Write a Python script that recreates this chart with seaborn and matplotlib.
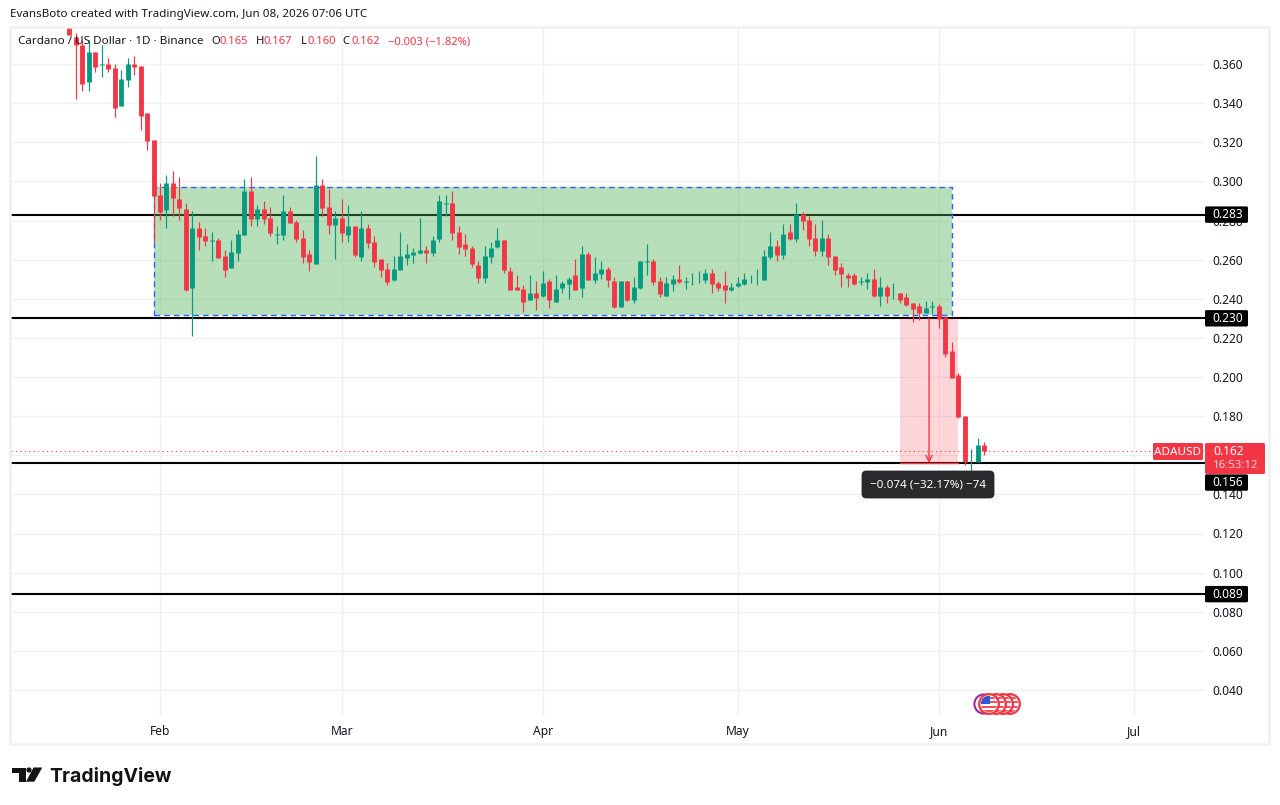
import matplotlib
matplotlib.use("Agg")
import matplotlib.pyplot as plt
from matplotlib.patches import Rectangle, Circle, Polygon, FancyBboxPatch
import numpy as np
import pandas as pd
import seaborn as sns

# Daily ADA/USD candles, starting 18 Jan 2026
first_day = "2026-01-18"
opens = [.3787,.3740,.3697,.3508,.3661,.3597,.3600,.3580,.3385,.3518,.3600,.3590,.3350,.3211,
         .2930,.2854,.2992,.2910,.2859,.2455,.2762,.2721,.2697,.2700,.2619,.2557,.2634,.2726,.2951,.2808,
         .2859,.2813,.2727,.2726,.2849,.2792,.2710,.2629,.2578,.2981,.2869,.2777,.2813,.2726,.2772,
         .2613,.2762,.2690,.2603,.2552,.2496,.2547,.2608,.2624,.2634,.2649,.2634,.2705,.2886,.2890,
         .2741,.2680,.2659,.2573,.2506,.2613,.2665,.2700,.2542,.2460,.2450,.2394,.2429,.2414,.2491,
         .2383,.2455,.2475,.2521,.2455,.2629,.2496,.2527,.2552,.2491,.2358,.2491,.2394,.2455,.2590,
         .2593,.2491,.2414,.2475,.2501,.2488,.2509,.2499,.2496,.2532,.2481,.2470,.2445,.2465,.2475,
         .2499,.2499,.2496,.2613,.2670,.2624,.2741,.2705,.2833,.2803,.2711,.2644,.2711,.2618,.2562,
         .2521,.2521,.2488,.2486,.2501,.2414,.2460,.2427,.2429,.2409,.2378,.2363,.2327,.2360,.2363,
         .2307,.2133,.2010,.1801,.1565,.1565,.165]
highs = [.3787,.3760,.3723,.3723,.3661,.3697,.3631,.3600,.3569,.3631,.3641,.3590,.3350,.3211,
         .2990,.3033,.3053,.3022,.2889,.2849,.2792,.2762,.2741,.2710,.2649,.2700,.2751,.3012,.3022,.2879,
         .2899,.2869,.2772,.2930,.2869,.2803,.2751,.2649,.3130,.3012,.2961,.2849,.2910,.2879,.2772,
         .2849,.2782,.2721,.2603,.2583,.2619,.2741,.2680,.2659,.2813,.2670,.2721,.2930,.2930,.2951,
         .2772,.2731,.2670,.2593,.2670,.2690,.2762,.2700,.2562,.2521,.2470,.2521,.2491,.2542,.2501,
         .2521,.2491,.2511,.2603,.2670,.2639,.2613,.2593,.2562,.2511,.2491,.2491,.2511,.2593,.2680,
         .2603,.2511,.2511,.2521,.2572,.2511,.2532,.2542,.2552,.2552,.2491,.2542,.2481,.2511,.2532,
         .2521,.2552,.2649,.2741,.2700,.2782,.2782,.2889,.2843,.2823,.2782,.2803,.2731,.2618,.2583,
         .2532,.2532,.2511,.2532,.2552,.2511,.2470,.2481,.2429,.2429,.2378,.2378,.2389,.2389,.2373,
         .2307,.2179,.2020,.1801,.1632,.1688,.167]
lows = [.3748,.3421,.3464,.3462,.3559,.3535,.3559,.3329,.3385,.3482,.3544,.3263,.3160,.2692,
        .2803,.2762,.2823,.2803,.2440,.2209,.2649,.2670,.2593,.2608,.2511,.2557,.2593,.2726,.2772,.2772,
        .2782,.2721,.2680,.2700,.2787,.2690,.2583,.2542,.2578,.2823,.2731,.2603,.2690,.2690,.2613,
        .2593,.2659,.2562,.2511,.2470,.2490,.2547,.2573,.2583,.2629,.2583,.2619,.2690,.2823,.2700,
        .2629,.2619,.2562,.2480,.2480,.2583,.2659,.2532,.2445,.2445,.2332,.2394,.2343,.2409,.2353,
        .2383,.2429,.2399,.2445,.2409,.2496,.2480,.2501,.2460,.2353,.2358,.2388,.2378,.2450,.2521,
        .2470,.2409,.2414,.2440,.2481,.2450,.2470,.2481,.2481,.2429,.2440,.2378,.2440,.2460,.2470,
        .2481,.2470,.2496,.2603,.2593,.2603,.2700,.2690,.2752,.2670,.2618,.2618,.2572,.2521,.2460,
        .2460,.2470,.2470,.2450,.2409,.2363,.2378,.2399,.2378,.2363,.2281,.2291,.2327,.2322,.2251,
        .2102,.1995,.1790,.1550,.1479,.1565,.160]
closes = [.3748,.3697,.3498,.3661,.3585,.3600,.3574,.3375,.3523,.3600,.3585,.3334,.3206,.2925,
          .2844,.2992,.2915,.2864,.2445,.2762,.2716,.2695,.2700,.2608,.2547,.2639,.2731,.2951,.2808,.2859,
          .2808,.2736,.2731,.2849,.2787,.2705,.2613,.2588,.2981,.2864,.2777,.2813,.2736,.2772,.2624,
          .2762,.2685,.2588,.2547,.2486,.2552,.2619,.2629,.2639,.2649,.2634,.2700,.2900,.2890,.2736,
          .2665,.2654,.2578,.2506,.2619,.2659,.2700,.2547,.2445,.2445,.2383,.2429,.2404,.2480,.2394,
          .2450,.2480,.2501,.2445,.2629,.2496,.2532,.2552,.2496,.2358,.2491,.2394,.2460,.2593,.2593,
          .2486,.2424,.2481,.2501,.2486,.2491,.2511,.2501,.2532,.2475,.2455,.2445,.2460,.2481,.2501,
          .2501,.2501,.2618,.2670,.2624,.2731,.2705,.2833,.2797,.2705,.2644,.2711,.2613,.2547,.2526,
          .2506,.2475,.2491,.2501,.2414,.2460,.2414,.2429,.2394,.2368,.2348,.2327,.2353,.2363,.2296,
          .2118,.1995,.1795,.1565,.1568,.1652,.162]

levels = [0.283, 0.230, 0.156, 0.089]
price_ticks = [0.36,0.34,0.32,0.30,0.28,0.26,0.24,0.22,0.20,0.18,0.14,0.12,0.10,0.08,0.06,0.04]
month_starts = ["2026-02-01","2026-03-01","2026-04-01","2026-05-01","2026-06-01","2026-07-01"]
month_names = ["Feb","Mar","Apr","May","Jun","Jul"]
range_top, range_bottom = 0.2971, 0.2317
range_dates = ["2026-01-31", "2026-06-03"]
short_dates = ["2026-05-26", "2026-06-04"]
short_entry, short_target = 0.230, 0.156
last_price = closes[-1]

RED, GREEN, BLUE, GRID = "#F23645", "#089981", "#2962FF", "#F0F0F2"
INK = "#131722"
FONT = "Noto Sans"
W, H = 1280, 805

sns.set_theme(style="white", rc={"font.family": [FONT, "DejaVu Sans"]})
fig = plt.figure(figsize=(W / 100, H / 100), dpi=100, facecolor="white")


def px_box(left, top, right, bottom):
    return [left / W, 1 - bottom / H, (right - left) / W, (bottom - top) / H]


def fx(x):
    return x / W


def fy(y):
    return 1 - y / H


ax = fig.add_axes(px_box(11, 28, 1205, 716))
dates = pd.date_range(first_day, periods=len(opens))
df = pd.DataFrame({"date": dates, "o": opens, "h": highs, "l": lows, "c": closes})
df["dir"] = np.where(df.c >= df.o, "up", "down")
df["top"] = df[["o", "c"]].max(axis=1)
df["bot"] = df[["o", "c"]].min(axis=1)
palette = {"up": GREEN, "down": RED}

wicks = df.melt(id_vars=["date", "dir"], value_vars=["h", "l"], value_name="price")
bodies = df.melt(id_vars=["date", "dir"], value_vars=["top", "bot"], value_name="price")

sns.lineplot(data=wicks, x="date", y="price", hue="dir", units="date", estimator=None,
             palette=palette, legend=False, ax=ax, linewidth=0.85, zorder=5,
             solid_capstyle="butt")
sns.lineplot(data=bodies, x="date", y="price", hue="dir", units="date", estimator=None,
             palette=palette, legend=False, ax=ax, linewidth=3.5, zorder=6,
             solid_capstyle="butt")

# Axis window
feb1 = pd.Timestamp("2026-02-01")
day0 = matplotlib.dates.date2num(feb1)
ax.set_xlim(day0 + (11 - 160) / 6.49, day0 + (1205 - 160) / 6.49)
ax.set_ylim(0.36 - (716 - 64) / 1956.25, 0.36 + (64 - 28) / 1956.25)

ax.set_xticks(pd.to_datetime(month_starts))
ax.set_xticklabels(month_names, fontsize=8.7, color=INK)
ax.set_yticks(price_ticks + [0.16])
ax.set_yticklabels([f"{v:.3f}" for v in price_ticks] + [""], fontsize=8.6, color=INK)
ax.yaxis.tick_right()
ax.tick_params(axis="y", length=0, pad=5.2)
ax.tick_params(axis="x", length=0, pad=6.2)
ax.set_xlabel("")
ax.set_ylabel("")
ax.grid(True, color=GRID, linewidth=1)
ax.set_axisbelow(True)
for s in ax.spines.values():
    s.set_visible(False)

# Horizontal support levels, under the translucent range box
for lv in levels:
    ax.axhline(lv, color="black", linewidth=1.5, zorder=1.5)
ax.axhline(last_price, color=RED, linewidth=0.8, linestyle=(0, (1, 3)), zorder=1.6)

# Consolidation range
rx = pd.to_datetime(range_dates)
x0 = matplotlib.dates.date2num(rx[0])
x1 = matplotlib.dates.date2num(rx[1])
ax.add_patch(Rectangle((x0, range_bottom), x1 - x0, range_top - range_bottom,
                       facecolor="#4CAF50", alpha=0.4, edgecolor="none", zorder=2))
ax.add_patch(Rectangle((x0, range_bottom), x1 - x0, range_top - range_bottom,
                       facecolor="none", edgecolor=BLUE, linewidth=1.0,
                       linestyle=(0, (4, 3)), zorder=2.1))

# Measured drop
sx = pd.to_datetime(short_dates)
s0 = matplotlib.dates.date2num(sx[0])
s1 = matplotlib.dates.date2num(sx[1])
ax.add_patch(Rectangle((s0, short_target), s1 - s0, short_entry - short_target,
                       facecolor=RED, alpha=0.2, edgecolor="none", zorder=2.2))
ax.plot([s0, s1], [short_target, short_target], color=RED, linewidth=1, zorder=2.3)
ax.annotate("", xy=((s0 + s1) / 2, short_target), xytext=((s0 + s1) / 2, short_entry),
            arrowprops=dict(arrowstyle="->", color=RED, lw=1.0, mutation_scale=11,
                            shrinkA=0, shrinkB=0), zorder=4)

# Overlay in pixel coordinates for tags, badges and the wordmark
overlay = fig.add_axes([0, 0, 1, 1], facecolor="none")
overlay.set_xlim(0, W)
overlay.set_ylim(H, 0)
overlay.axis("off")

overlay.text(928, 484.5, "\u22120.074 (\u221232.17%) \u221274", color="white", fontsize=8.4,
             ha="center", va="center", zorder=20,
             bbox=dict(boxstyle="round,pad=0.72,rounding_size=0.4", facecolor="#2A2A2C",
                       edgecolor="none"))

# Price scale tags; the 0.156 tag sits just under the live price tag
tag_shift = {0.156: 19.5}
for lv in levels:
    yp = H - ax.transData.transform((0, lv))[1] + tag_shift.get(lv, 0)
    overlay.add_patch(FancyBboxPatch((1205, yp - 8.2), 43, 16.4,
                                     boxstyle="round,pad=0,rounding_size=1.5",
                                     facecolor="black", edgecolor="none", zorder=8))
    overlay.text(1227.7, yp, f"{lv:.3f}", color="white", fontsize=8.6, fontweight="bold",
                 ha="center", va="center", zorder=9)

overlay.add_patch(FancyBboxPatch((1205, 443), 60, 31, boxstyle="round,pad=0,rounding_size=1.5",
                                 facecolor=RED, edgecolor="none", zorder=10))
overlay.add_patch(FancyBboxPatch((1153, 443), 50, 17, boxstyle="round,pad=0,rounding_size=1.5",
                                 facecolor=RED, edgecolor="none", zorder=10))
overlay.text(1178, 452, "ADAUSD", color="white", fontsize=8.4, ha="center", va="center", zorder=11)
overlay.text(1213, 451.5, f"{last_price:.3f}", color="white", fontsize=8.6, fontweight="bold",
             ha="left", va="center", zorder=11)
overlay.text(1213, 465.5, "16:53:12", color="#FFD0D4", fontsize=8.2, ha="left", va="center", zorder=11)

# Panel frame
overlay.add_patch(Rectangle((10, 27), 1258.5, 717, facecolor="none", edgecolor="#F0F0F2",
                            linewidth=1.8, zorder=0))

# Header and symbol legend
overlay.text(10, 14, "EvansBoto created with TradingView.com, Jun 08, 2026 07:06 UTC",
             fontsize=8.35, color=INK, ha="left", va="center")
overlay.text(18, 42, "Cardano / US Dollar \u00b7 1D \u00b7 Binance", fontsize=8.4, color=INK,
             ha="left", va="center", zorder=15)
legend_bits = [("O", 211, INK), ("0.165", 220, RED), ("H", 256, INK), ("0.167", 264, RED),
               ("L", 301, INK), ("0.160", 307, RED), ("C", 342, INK), ("0.162", 352, RED),
               ("\u22120.003 (\u22121.82%)", 388, RED)]
for label, xp, col in legend_bits:
    overlay.text(xp, 42, label, fontsize=8.1, color=col, ha="left", va="center", zorder=15)

# Event badges beneath the last candles
badge_y = 704


def badge(cx, ring, front=False):
    clip = Circle((cx, badge_y), 9.4, transform=overlay.transData)
    overlay.add_patch(Circle((cx, badge_y), 9.6, facecolor="white", edgecolor=ring, linewidth=1.5))
    if ring == "#9C27B0":
        return
    for dy in [-6.5, -2, 2.5, 6.5]:
        stripe = Rectangle((cx - 10, badge_y + dy - 1), 20, 2.1, facecolor="#F2505F", edgecolor="none")
        overlay.add_patch(stripe)
        stripe.set_clip_path(clip)
    canton = Rectangle((cx - 8.5, badge_y - 8), 9, 8, facecolor="#2F55D4", edgecolor="none")
    overlay.add_patch(canton)
    canton.set_clip_path(clip)
    overlay.add_patch(Circle((cx, badge_y), 8.8, facecolor="none", edgecolor="white", linewidth=0.7))
    overlay.add_patch(Circle((cx, badge_y), 9.8, facecolor="none", edgecolor=ring, linewidth=1.5))


badge(984, "#9C27B0")
for cx in [1010, 1003, 996, 989]:
    badge(cx, RED)

# Wordmark
overlay.add_patch(Polygon([(12, 767.5), (26, 767.5), (26, 781.7), (19, 781.7), (19, 772.5), (12, 772.5)],
                          closed=True, facecolor="#131313", edgecolor="none"))
overlay.add_patch(Circle((29, 770), 2.6, facecolor="#131313", edgecolor="none"))
overlay.add_patch(Polygon([(33.5, 767.5), (42.3, 767.5), (34.3, 781.7), (26, 781.7)],
                          closed=True, facecolor="#131313", edgecolor="none"))
overlay.text(49, 781.7, "TradingView", fontsize=14.0, fontweight="bold", family="Inter",
             color="#131313", ha="left", va="baseline")

fig.savefig("out.png", dpi=100, facecolor="white")
